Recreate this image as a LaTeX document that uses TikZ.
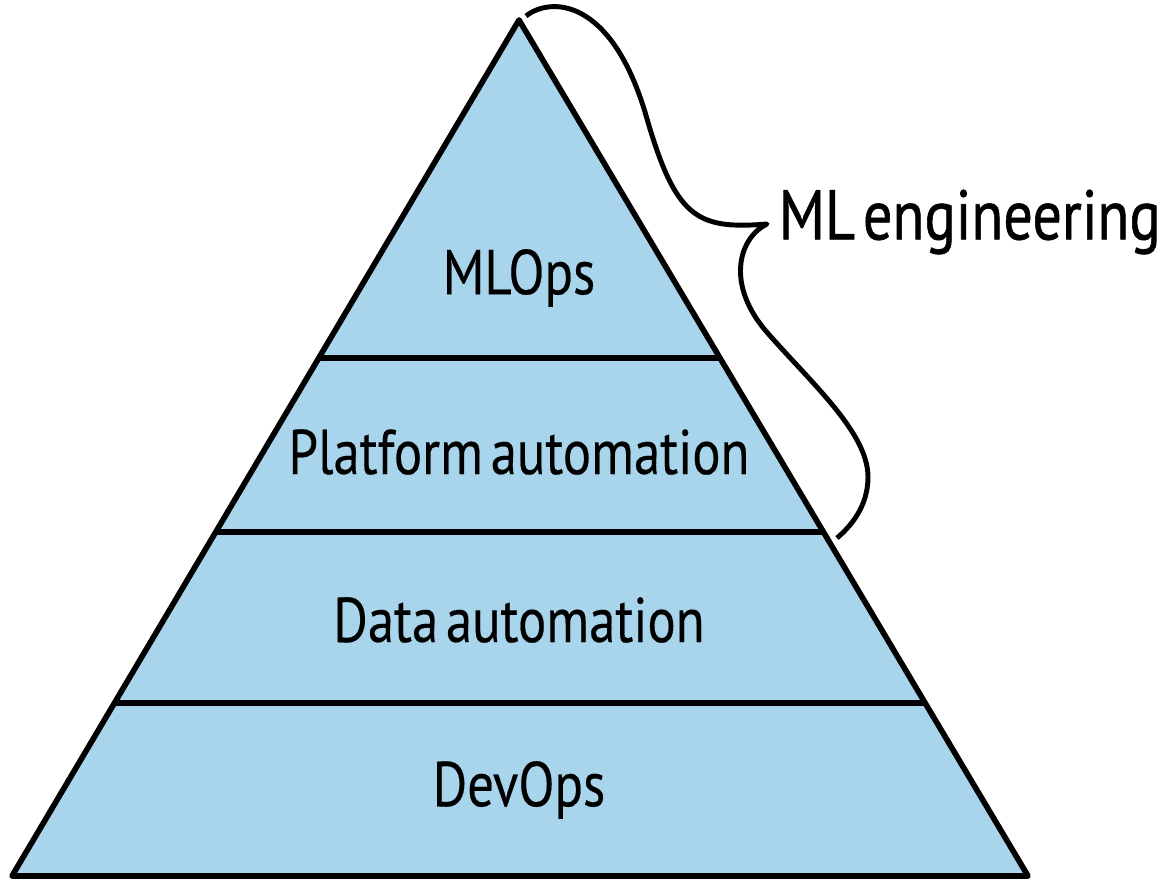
\documentclass[tikz,border=0pt]{standalone}
\usepackage{fontspec}
\setmainfont{PT Sans}[FakeStretch=0.835, FakeBold=0.3, WordSpace=0.55]
\newfontfamily\bracefont{PT Sans}[FakeStretch=0.83, FakeBold=0.8, WordSpace=0.5]
\usepackage{tikz}
\usetikzlibrary{calc}
\definecolor{tier-fill}{HTML}{A8D4EC}

\begin{document}
\begin{tikzpicture}[line width=1.6pt, line join=round,
    tier/.style={font=\fontsize{18}{22}\selectfont}]
    \useasboundingbox (0,0) rectangle (11.72,8.92);
    \coordinate (apex) at (5.19,8.72);
    \coordinate (bl) at (0.12,0.16);
    \coordinate (br) at (10.28,0.16);
    \filldraw[fill=tier-fill] (apex) -- (br) -- (bl) -- cycle;
    \foreach \t in {0.395,0.598,0.798}
        \draw ($(apex)!\t!(bl)$) -- ($(apex)!\t!(br)$);
    \node[tier] (mlops) at (5.19,6.14) {MLOps};
    \node[tier] (platform) at (5.19,4.40) {Platform automation};
    \node[tier] (data) at (5.19,2.72) {Data automation};
    \node[tier] (devops) at (5.19,1.02) {DevOps};
    % brace for the top two tiers
    \coordinate (bs) at (5.26,8.76);
    \coordinate (tip) at (7.67,6.68);
    \coordinate (be) at (8.37,3.54);
    \draw[line width=1.4pt] (bs) .. controls (5.5,8.95) and (6.1,8.95) .. (6.45,7.8)
        .. controls (6.75,6.75) and (6.95,6.62) .. (tip)
        .. controls (7.40,6.55) and (7.25,6.10) .. (7.65,5.62)
        .. controls (8.1,5.10) and (8.68,4.6) .. (8.68,4.15)
        .. controls (8.68,3.85) and (8.5,3.65) .. (be);
    \node[anchor=west, inner sep=0pt, font=\bracefont\fontsize{20}{24}\selectfont] (mleng)
        at ($(tip)+(0.09,0.02)$) {ML engineering};
\end{tikzpicture}
\end{document}
